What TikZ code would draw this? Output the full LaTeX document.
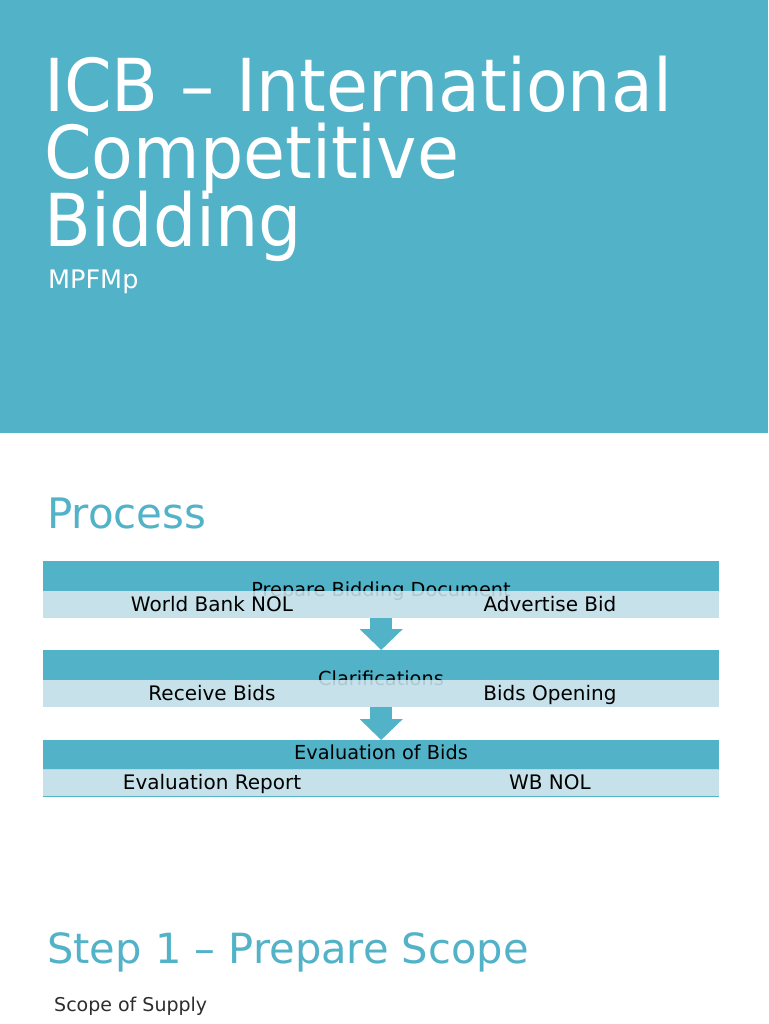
\documentclass[tikz,border=0pt]{standalone}
\usepackage{fontspec}
\setmainfont{DejaVu Sans}
\newfontfamily\titlefont[FakeStretch=0.935]{DejaVu Sans}
\usepackage{xcolor}
\usetikzlibrary{positioning, arrows.meta}

\definecolor{slideteal}{RGB}{81,178,200}
\definecolor{slidelight}{RGB}{192,222,231}
\definecolor{slidegray}{RGB}{45,45,45}

\tikzset{
  darkband/.style={fill=slideteal, minimum width=676pt, minimum height=30pt, inner sep=0pt, anchor=north west},
  lightband/.style={fill=slidelight, fill opacity=0.9, minimum width=676pt, minimum height=27pt, inner sep=0pt, anchor=north west},
  bandtext/.style={inner sep=0pt, anchor=base, font=\fontsize{19.3}{23}\selectfont},
  rowtext/.style={inner sep=0pt, anchor=base, font=\fontsize{20}{24}\selectfont},
  blockarrow/.style={draw=slideteal, line width=22pt, -{Triangle[width=42pt, length=21pt]}}
}

\begin{document}
\begin{tikzpicture}[x=1pt, y=-1pt]
\useasboundingbox (0,0) rectangle (768,1024);

% Title band
\fill[slideteal] (0,0) rectangle (768,433);
\node[anchor=base west, inner sep=0pt, text=white, font=\titlefont\fontsize{73}{67}\selectfont] (title1) at (44,112) {ICB – International};
\node[anchor=base west, inner sep=0pt, text=white, font=\titlefont\fontsize{73}{67}\selectfont] (title2) at (44,179) {Competitive};
\node[anchor=base west, inner sep=0pt, text=white, font=\titlefont\fontsize{73}{67}\selectfont] (title3) at (44,246) {Bidding};
\node[anchor=base west, inner sep=0pt, text=white, font=\fontsize{25.5}{30}\selectfont] (subtitle) at (48,288) {MPFMp};

% Process heading
\node[anchor=base west, inner sep=0pt, text=slideteal, font=\fontsize{42}{48}\selectfont] (process) at (47,528) {Process};

% Row 1
\node[darkband] (prep) at (43,561) {};
\node[bandtext] (preptxt) at (381,596) {Prepare Bidding Document};
\node[lightband] (row1) at (43,591) {};
\node[rowtext] (wbnol) at (212,611) {World Bank NOL};
\node[rowtext] (advert) at (550,611) {Advertise Bid};

% Row 2
\node[darkband] (clar) at (43,650) {};
\node[bandtext] (clartxt) at (381,685) {Clarifications};
\node[lightband] (row2) at (43,680) {};
\node[rowtext] (receive) at (212,700) {Receive Bids};
\node[rowtext] (opening) at (550,700) {Bids Opening};

% Row 3
\node[darkband] (evalb) at (43,740) {};
\node[bandtext] (evaltxt) at (381,759) {Evaluation of Bids};
\node[lightband] (row3) at (43,769) {};
\draw[slideteal, line width=0.8pt] (row3.south west) -- (row3.south east);
\node[rowtext] (report) at (212,789) {Evaluation Report};
\node[rowtext] (wbnol2) at (550,789) {WB NOL};

% Arrows between rows
\draw[blockarrow] (row1.south) -- (clar.north);
\draw[blockarrow] (row2.south) -- (evalb.north);

% Step 1
\node[anchor=base west, inner sep=0pt, text=slideteal, font=\fontsize{41.6}{48}\selectfont] (step1) at (47,963) {Step 1 – Prepare Scope};
\node[anchor=base west, inner sep=0pt, text=slidegray, font=\fontsize{19}{22}\selectfont] (scope) at (54,1011) {Scope of Supply};

\end{tikzpicture}
\end{document}
